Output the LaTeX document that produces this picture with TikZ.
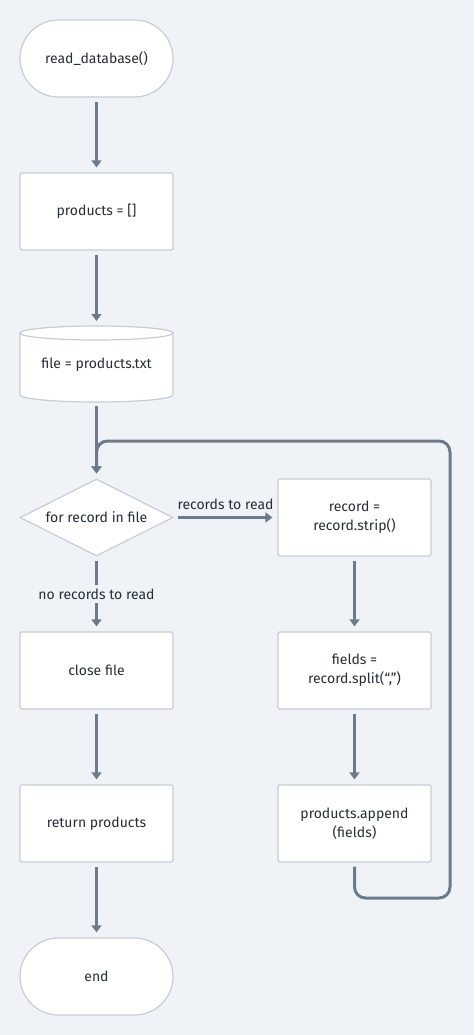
\documentclass[tikz,border=0pt]{standalone}
\usepackage{fontspec}
\setmainfont{Fira Sans}
\usetikzlibrary{arrows.meta,shapes.geometric}
\definecolor{bgc}{HTML}{EFF3F7}
\definecolor{edgec}{HTML}{C6CDD5}
\definecolor{arrc}{HTML}{6C7A89}
\definecolor{txtc}{HTML}{262F38}
\tikzset{
  base/.style={minimum width=153pt, minimum height=77pt, inner sep=0pt, align=center, text=txtc, font=\fontsize{14}{19}\selectfont},
  procbox/.style={base, rectangle, draw=edgec, line width=1.2pt, fill=white, rounded corners=1.5pt},
  termbox/.style={base, rectangle, draw=edgec, line width=1.2pt, fill=white, rounded corners=38.5pt},
  dbbox/.style={base},
  decbox/.style={base, diamond, aspect=2, draw=edgec, line width=1.2pt, fill=white, minimum width=153pt, minimum height=77pt},
  flow/.style={draw=arrc, line width=3pt, -{Triangle[width=10pt,length=7pt]}, shorten <=4pt, shorten >=5pt},
  cyl/.style={edgec, line width=1.2pt},
  lbl/.style={text=txtc, font=\fontsize{14}{16}\selectfont, inner sep=2pt}
}
\begin{document}
\begin{tikzpicture}[x=1pt,y=-1pt]
\fill[bgc] (0,0) rectangle (474,1035);
\useasboundingbox (0,0) rectangle (474,1035);

\node[termbox] (start) at (96.5,58.5) {read\_database()};
\node[procbox] (prod) at (96.5,211.5) {products = []};
% cylinder outline
\fill[white, draw=edgec, line width=1.2pt]
  (20,333) -- (20,395) arc[start angle=180,end angle=360,x radius=76.5pt,y radius=7pt]
  -- (173,333) arc[start angle=0,end angle=180,x radius=76.5pt,y radius=7pt] -- cycle;
\draw[cyl] (20,333) arc[start angle=180,end angle=360,x radius=76.5pt,y radius=7pt];
\node[dbbox] (db) at (96.5,365) {file = products.txt};

\node[decbox] (dec) at (96.5,517.5) {for record in file};
\node[procbox] (strip) at (354.5,517.5) {record =\\record.strip()};
\node[procbox] (close) at (96.5,670.5) {close file};
\node[procbox] (split) at (354.5,670.5) {fields =\\record.split(“,”)};
\node[procbox] (ret) at (96.5,823.5) {return products};
\node[procbox] (app) at (354.5,823.5) {products.append\\(fields)};
\node[termbox] (end) at (96.5,976.5) {end};

\coordinate (dbtop) at (96.5,326);
\coordinate (dbbot) at (96.5,402);
\draw[flow] (start) -- (prod);
\draw[flow] (prod) -- (dbtop);
\draw[flow] (dbbot) -- (dec);
\draw[flow] (dec) -- node[lbl, above, yshift=4pt] (lr) {records to read} (strip);
\draw[flow] (dec) -- node[lbl, fill=bgc, inner ysep=4pt] (ln) {no records to read} (close);
\draw[flow] (strip) -- (split);
\draw[flow] (split) -- (app);
\draw[flow] (close) -- (ret);
\draw[flow] (ret) -- (end);

\coordinate (l1) at (354.5,898);
\coordinate (l2) at (450,898);
\coordinate (l3) at (450,441);
\coordinate (l4) at (96.5,441);
\draw[flow, rounded corners=11pt] (app) -- (l1) -- (l2) -- (l3) -- (l4) -- (dec);
\end{tikzpicture}
\end{document}
